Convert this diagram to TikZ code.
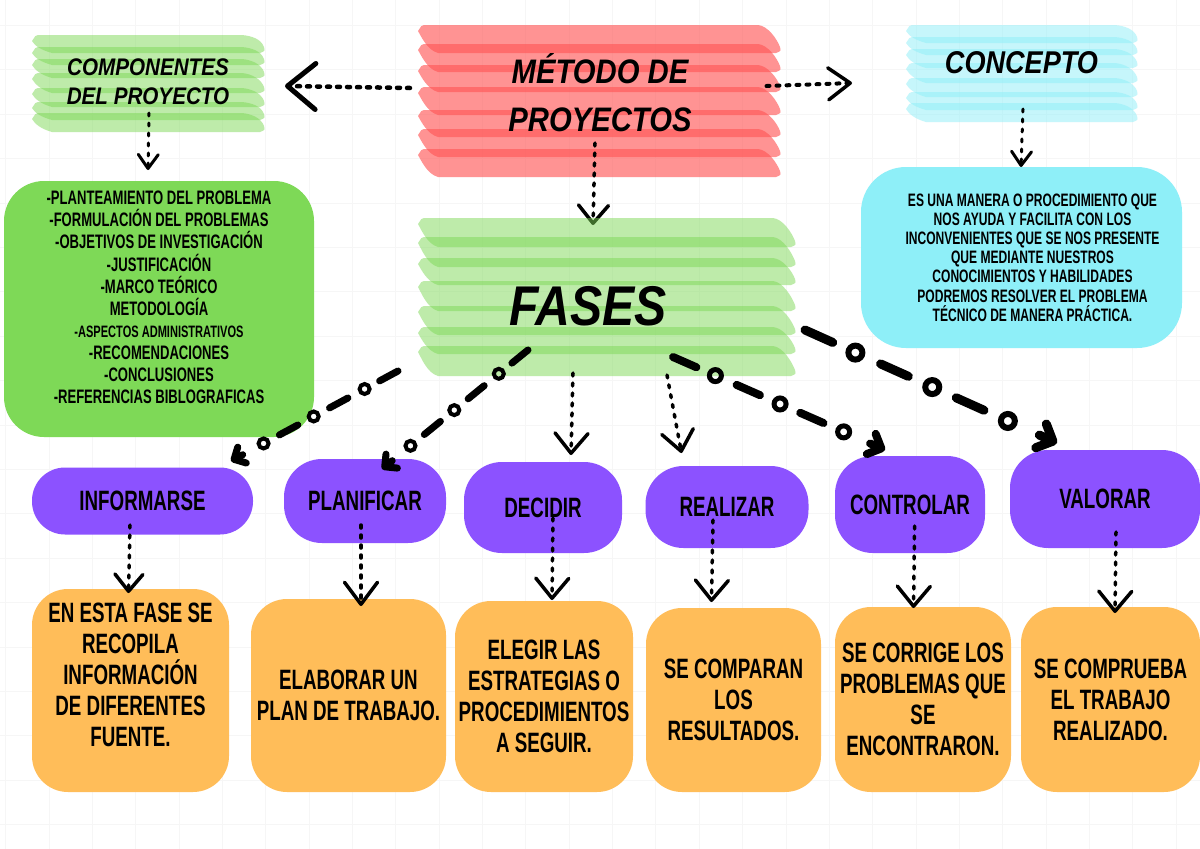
\documentclass[tikz,border=0pt]{standalone}
\usepackage{fontspec}
\usetikzlibrary{arrows.meta,calc}
\newfontfamily\handf[FakeStretch=0.67]{Liberation Sans}
\newfontfamily\titlef[FakeStretch=0.86]{Liberation Sans}
\definecolor{cgreen}{HTML}{7ED957}
\definecolor{cred}{HTML}{FF5757}
\definecolor{ccyan}{HTML}{8EEFF8}
\definecolor{cpurple}{HTML}{8C52FF}
\definecolor{corange}{HTML}{FFBD59}
\definecolor{cgrid}{HTML}{F6F6F6}
\newcommand\strips[5]{% x0, x1, list top/bottom, colour, opacity
  \foreach \t/\b in {#3}{
    \fill[#4,fill opacity=#5] (#1+2,\t+3) .. controls (#1+3,\t+1) .. (#1+6,\t) -- (#2-22,\t)
      .. controls (#2-12,\t+1) and (#2-3,\b-14) .. (#2,\b-6)
      .. controls (#2+1,\b-2) .. (#2-4,\b) -- (#1+20,\b)
      .. controls (#1+9,\b-3) and (#1+3,\t+11) .. (#1,\t+6) -- cycle;
  }}
\newcommand\ringconn[6]{% from, to, dash width, ring radius, ring width, head
  \coordinate (ra) at #1; \coordinate (rb) at #2;
  \draw[line cap=round,line width=#3]
    (ra) -- ($(ra)!.11!(rb)$)
    ($(ra)!.30!(rb)$) -- ($(ra)!.41!(rb)$)
    ($(ra)!.60!(rb)$) -- ($(ra)!.71!(rb)$);
  \draw[line width=#5] ($(ra)!.20!(rb)$) circle (#4) ($(ra)!.505!(rb)$) circle (#4) ($(ra)!.805!(rb)$) circle (#4);
  \draw[line cap=round,line width=#3,-{Straight Barb[length=#6*0.5,width=#6,line width=#3,round]}] ($(ra)!.93!(rb)$) -- (rb);
}
\tikzset{
  dotline/.style={line width=3.5pt,line cap=round,dash pattern=on 3pt off 7pt},
  head/.style n args={3}{-{Straight Barb[length=#1,width=#2,line width=#3,round]}},
  boxbase/.style={align=center,inner sep=0pt,text=black,font=\handf\bfseries\fontsize{28}{31}\selectfont},
  purplebox/.style={boxbase,fill=cpurple},
  orangebox/.style={boxbase,fill=corange,rounded corners=36pt},
  lbltext/.style={align=center,inner sep=0pt,text=black},
  titlet/.style={align=center,inner sep=0pt,text=black},
}
\begin{document}
\begin{tikzpicture}[x=1pt,y=-1pt]
\useasboundingbox (0,0) rectangle (1200,849);
\fill[white] (0,0) rectangle (1200,849);
% grid
\foreach \i in {0,...,27}{\draw[cgrid,line width=1pt] (5.7+43.35*\i,0) -- (5.7+43.35*\i,849);}
\foreach \i in {0,...,18}{\draw[cgrid,line width=1pt] (0,25.5+44.4*\i) -- (1200,25.5+44.4*\i);}
% highlighted titles
\strips{418}{780}{25/53,44/72,65/92,87/115,110/137,129/157,149/177}{cred}{0.64}
\strips{32}{264}{35/53,47/65,59/78,73/93,88/107,102/120,113/132}{cgreen}{0.5}
\strips{906}{1137}{25/43,37/55,49/68,63/83,78/97,92/110,103/122}{ccyan}{0.5}
\node[titlet,minimum width=362pt,minimum height=152pt,font=\titlef\bfseries\itshape\fontsize{34}{48}\selectfont] (metodo) at (600,93) {MÉTODO DE\\PROYECTOS};
\node[titlet,minimum width=232pt,minimum height=97pt,font=\titlef\bfseries\itshape\fontsize{24}{29}\selectfont] (comp) at (148,81.5) {COMPONENTES\\DEL PROYECTO};
\node[titlet,minimum width=231pt,minimum height=97pt,font=\titlef\bfseries\itshape\fontsize{31.5}{30}\selectfont] (concepto) at (1021.5,62.5) {CONCEPTO};
% arrow running under the green highlight
\coordinate (fasesin) at (593,225);
\draw[dotline,head={18pt}{30pt}{3.5pt}] ($(metodo)+(-5,50)$) -- (fasesin);
\strips{418}{795}{218/247,237/267,258/285,281/311,306/335,327/354,346/376}{cgreen}{0.5}
\node[titlet,minimum width=377pt,minimum height=158pt,font=\titlef\bfseries\itshape\fontsize{56}{56}\selectfont] (fases) at (588,306) {FASES};
% boxes
\node[boxbase,fill=cgreen,rounded corners=40pt,minimum width=310pt,minimum height=256pt,
  label={[lbltext,yshift=11.5pt,font=\handf\bfseries\fontsize{19.5}{22.1}\selectfont]center:{-PLANTEAMIENTO DEL PROBLEMA\\-FORMULACIÓN DEL PROBLEMAS\\-OBJETIVOS DE INVESTIGACIÓN\\-JUSTIFICACIÓN\\-MARCO TEÓRICO\\METODOLOGÍA\\{\fontsize{16.5}{22.1}\selectfont -ASPECTOS ADMINISTRATIVOS}\\-RECOMENDACIONES\\-CONCLUSIONES\\-REFERENCIAS BIBLOGRAFICAS}}] (gbox) at (159,309) {};
\node[boxbase,fill=ccyan,rounded corners=45pt,minimum width=321pt,minimum height=181pt,
  label={[lbltext,xshift=11pt,font=\handf\bfseries\fontsize{18}{19.2}\selectfont]center:{ES UNA MANERA O PROCEDIMIENTO QUE\\NOS AYUDA Y FACILITA CON LOS\\INCONVENIENTES QUE SE NOS PRESENTE\\QUE MEDIANTE NUESTROS\\CONOCIMIENTOS Y HABILIDADES\\PODREMOS RESOLVER EL PROBLEMA\\TÉCNICO DE MANERA PRÁCTICA.}}] (cbox) at (1021.5,257.5) {};
\node[purplebox,rounded corners=33pt,minimum width=221pt,minimum height=67pt] (inf) at (142.5,501) {INFORMARSE};
\node[purplebox,rounded corners=38pt,minimum width=162pt,minimum height=84pt] (pla) at (365,501) {PLANIFICAR};
\node[purplebox,rounded corners=38pt,minimum width=158pt,minimum height=91pt] (dec) at (543,507.5) {DECIDIR};
\node[purplebox,rounded corners=38pt,minimum width=163pt,minimum height=82pt] (rea) at (727,507) {REALIZAR};
\node[purplebox,rounded corners=38pt,minimum width=150pt,minimum height=97pt] (con) at (910,504.5) {CONTROLAR};
\node[purplebox,rounded corners=38pt,minimum width=190pt,minimum height=98pt] (val) at (1105,499) {VALORAR};
\node[orangebox,minimum width=197pt,minimum height=203pt,
  label={[lbltext,yshift=16pt,font=\handf\bfseries\fontsize{28}{31}\selectfont]center:{EN ESTA FASE SE\\RECOPILA\\INFORMACIÓN\\DE DIFERENTES\\FUENTE.}}] (oa) at (130.5,690.5) {};
\node[orangebox,minimum width=195pt,minimum height=193pt] (ob) at (348.5,695.5) {ELABORAR UN\\PLAN DE TRABAJO.};
\node[orangebox,minimum width=178pt,minimum height=191pt] (oc) at (544,696.5) {ELEGIR LAS\\ESTRATEGIAS O\\PROCEDIMIENTOS\\A SEGUIR.};
\node[orangebox,minimum width=175pt,minimum height=184pt] (od) at (733.5,700) {SE COMPARAN\\LOS\\RESULTADOS.};
\node[orangebox,minimum width=176pt,minimum height=185pt] (oe) at (923,699.5) {SE CORRIGE LOS\\PROBLEMAS QUE\\SE\\ENCONTRARON.};
\node[orangebox,minimum width=179pt,minimum height=185pt] (of) at (1110.5,699.5) {SE COMPRUEBA\\EL TRABAJO\\REALIZADO.};
% dotted connectors
\draw[dotline,line width=4.5pt,head={28pt}{46pt}{5pt}] ($(metodo)+(-190,-5)$) -- ($(comp)+(137,4.5)$);
\draw[dotline,line width=4pt,head={22pt}{32pt}{3.5pt}] ($(metodo)+(166.5,-7)$) -- ($(concepto)+(-169.5,20.5)$);
\draw[dotline,line width=3pt,head={14pt}{20pt}{3pt}] ($(comp)+(1,31.5)$) -- ($(gbox)+(-11,-139)$);
\draw[dotline,line width=3pt,head={14pt}{20pt}{3pt}] ($(concepto)+(1.5,46.5)$) -- ($(cbox)+(-.5,-90.5)$);
\draw[dotline,head={20pt}{33pt}{3.5pt}] ($(fases)+(-15,67)$) -- ($(dec)+(28,-52.5)$);
\draw[dotline,head={20pt}{32pt}{3.5pt}] ($(fases)+(79,69)$) -- ($(rea)+(-45.5,-54)$);
\draw[dotline,head={17pt}{28pt}{3.5pt}] ($(inf)+(-12.5,24)$) -- ($(oa)+(-2,-97.5)$);
\draw[dotline,head={22pt}{33pt}{3.5pt}] ($(pla)+(-4,24)$) -- ($(ob)+(12.5,-89.5)$);
\draw[dotline,head={20pt}{33pt}{3.5pt}] ($(dec)+(10,10.5)$) -- ($(oc)+(8,-96.5)$);
\draw[dotline,head={20pt}{33pt}{3.5pt}] ($(rea)+(-14,13)$) -- ($(od)+(-22,-98)$);
\draw[dotline,head={20pt}{33pt}{3.5pt}] ($(con)+(4.6,21.5)$) -- ($(oe)+(-9.5,-91.5)$);
\draw[dotline,head={20pt}{33pt}{3.5pt}] ($(val)+(11,33)$) -- ($(of)+(4.5,-86.5)$);
% dash-and-ring connectors
\ringconn{($(fases)+(-190,65)$)}{($(inf)+(88.5,-40)$)}{7pt}{5pt}{4pt}{18pt}
\ringconn{($(fases)+(-60,44)$)}{($(pla)+(17,-32)$)}{7pt}{5pt}{4pt}{18pt}
\ringconn{($(fases)+(85,51)$)}{($(con)+(-25,-54.5)$)}{8pt}{6pt}{5pt}{22pt}
\ringconn{($(fases)+(217,24)$)}{($(val)+(-48,-56)$)}{9pt}{7pt}{6pt}{26pt}
\end{tikzpicture}
\end{document}
